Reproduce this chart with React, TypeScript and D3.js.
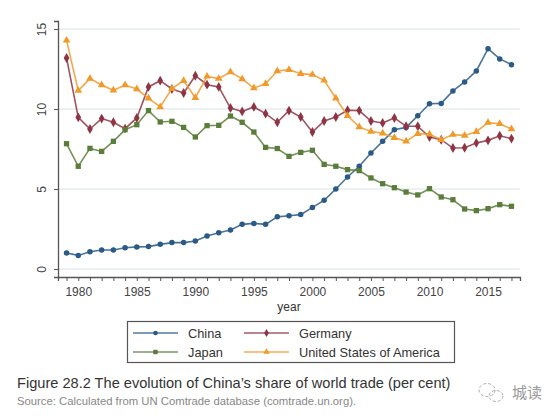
import React, { useEffect, useRef } from "react"
import * as d3 from "d3"

const years = [
  1979, 1980, 1981, 1982, 1983, 1984, 1985, 1986, 1987, 1988,
  1989, 1990, 1991, 1992, 1993, 1994, 1995, 1996, 1997, 1998,
  1999, 2000, 2001, 2002, 2003, 2004, 2005, 2006, 2007, 2008,
  2009, 2010, 2011, 2012, 2013, 2014, 2015, 2016, 2017,
]

const china = [
  1.0, 0.85, 1.08, 1.19, 1.19, 1.33, 1.38, 1.4, 1.54, 1.65,
  1.65, 1.75, 2.06, 2.27, 2.44, 2.79, 2.85, 2.79, 3.26, 3.33,
  3.4, 3.85, 4.29, 5.0, 5.75, 6.42, 7.25, 7.98, 8.71, 8.85,
  9.58, 10.33, 10.35, 11.13, 11.69, 12.38, 13.77, 13.13, 12.77,
]
const germany = [
  13.19, 9.48, 8.75, 9.4, 9.17, 8.77, 9.44, 11.38, 11.77, 11.25,
  11.0, 12.08, 11.52, 11.38, 10.06, 9.85, 10.13, 9.71, 9.17, 9.9,
  9.5, 8.56, 9.25, 9.5, 9.92, 9.9, 9.25, 9.13, 9.44, 8.92,
  8.92, 8.25, 8.08, 7.56, 7.58, 7.88, 8.04, 8.33, 8.15,
]
const japan = [
  7.83, 6.42, 7.54, 7.35, 7.98, 8.71, 9.02, 9.9, 9.19, 9.23,
  8.85, 8.25, 8.96, 8.98, 9.56, 9.17, 8.56, 7.6, 7.53, 7.04,
  7.29, 7.42, 6.54, 6.42, 6.21, 6.15, 5.69, 5.33, 5.08, 4.81,
  4.63, 5.02, 4.5, 4.33, 3.75, 3.65, 3.77, 4.02, 3.92,
]
const usa = [
  14.29, 11.15, 11.9, 11.5, 11.17, 11.5, 11.25, 10.67, 10.13, 11.27,
  11.77, 10.71, 12.04, 11.9, 12.31, 11.88, 11.31, 11.58, 12.37, 12.46,
  12.21, 12.15, 11.79, 10.67, 9.58, 8.88, 8.6, 8.48, 8.21, 7.98,
  8.46, 8.42, 8.08, 8.4, 8.35, 8.58, 9.15, 9.08, 8.75,
]

const yTicks = [0, 5, 10, 15]
const xTicks = [1980, 1985, 1990, 1995, 2000, 2005, 2010, 2015]

const seriesNames = ["China", "Germany", "Japan", "United States of America"]
const seriesValues = [china, germany, japan, usa]
const seriesColors = ["#2a5a86", "#8e3443", "#5a7d3a", "#f09a2c"]
const seriesSymbols = [d3.symbolCircle, d3.symbolDiamond, d3.symbolSquare, d3.symbolTriangle]
const symbolSizes = [24, 28, 28, 26]

const caption = "Figure 28.2 The evolution of China\u2019s share of world trade (per cent)"
const source = "Source: Calculated from UN Comtrade database (comtrade.un.org)."

const W = 554
const H = 418
const font = "'Liberation Sans', Arial, sans-serif"

export default function App() {
  const ref = useRef<SVGSVGElement>(null)

  useEffect(() => {
    const svg = d3.select(ref.current)
    svg.selectAll("*").remove()

    const left = 58, right = 520, top = 21, bottom = 277

    const x = d3.scaleLinear().domain([1978.27, 2017.73]).range([left, right])
    const y = d3.scaleLinear().domain([-0.5, 15.5]).range([bottom, top])

    // grid
    svg.append("g")
      .selectAll("line")
      .data(yTicks)
      .enter()
      .append("line")
      .attr("x1", left)
      .attr("x2", right)
      .attr("y1", d => y(d))
      .attr("y2", d => y(d))
      .attr("stroke", "#e6eeef")
      .attr("stroke-width", 1.3)

    // y axis
    const yAxis = svg.append("g")
      .attr("transform", `translate(${left},0)`)
      .call(d3.axisLeft(y).tickValues(yTicks).tickSize(4).tickPadding(6).tickFormat(d3.format("d")))
    yAxis.select(".domain").attr("stroke", "#555").attr("stroke-width", 1.3)
    yAxis.selectAll(".tick line").attr("stroke", "#555")
    yAxis.selectAll(".tick text")
      .attr("font-family", font)
      .attr("font-size", 12)
      .attr("fill", "#444")
      .attr("text-anchor", "middle")
      .attr("x", null)
      .attr("dy", null)
      .attr("transform", "translate(-12,0) rotate(-90)")

    // x axis, minor ticks every year
    const xAxis = svg.append("g")
      .attr("transform", `translate(0,${bottom})`)
      .call(d3.axisBottom(x).tickValues(years).tickSize(4).tickPadding(6)
        .tickFormat(d => (xTicks.includes(+d) ? String(d) : "")))
    xAxis.select(".domain").attr("stroke", "#555").attr("stroke-width", 1.3)
    xAxis.selectAll(".tick line").attr("stroke", "#555")
    xAxis.selectAll(".tick text")
      .attr("font-family", font)
      .attr("font-size", 12)
      .attr("fill", "#444")

    svg.append("text")
      .attr("x", (left + right) / 2)
      .attr("y", 311)
      .attr("text-anchor", "middle")
      .attr("font-family", font)
      .attr("font-size", 12)
      .attr("fill", "#333")
      .text("year")

    const line = d3.line<number>()
      .x((d, i) => x(years[i]))
      .y(d => y(d))

    seriesValues.forEach((vals, k) => {
      const g = svg.append("g")
      g.append("path")
        .datum(vals)
        .attr("d", line)
        .attr("fill", "none")
        .attr("stroke", seriesColors[k])
        .attr("stroke-width", 1.6)
        .attr("opacity", 0.85)
      g.selectAll("path.mark")
        .data(vals)
        .enter()
        .append("path")
        .attr("class", "mark")
        .attr("d", d3.symbol().type(seriesSymbols[k]).size(symbolSizes[k]))
        .attr("transform", (d, i) => `translate(${x(years[i])},${y(d)})`)
        .attr("fill", seriesColors[k])
    })

    // legend
    const legend = svg.append("g")
    legend.append("rect")
      .attr("x", 127.5)
      .attr("y", 321.5)
      .attr("width", 327)
      .attr("height", 41)
      .attr("fill", "white")
      .attr("stroke", "#555")
      .attr("stroke-width", 1.2)

    const legendOrder = [0, 1, 2, 3]
    legendOrder.forEach(k => {
      const col = k % 2
      const row = Math.floor(k / 2)
      const lx = col === 0 ? 133 : 244
      const ly = 333 + row * 19
      legend.append("line")
        .attr("x1", lx)
        .attr("x2", lx + 45)
        .attr("y1", ly)
        .attr("y2", ly)
        .attr("stroke", seriesColors[k])
        .attr("stroke-width", 1.4)
        .attr("opacity", 0.8)
      legend.append("path")
        .attr("d", d3.symbol().type(seriesSymbols[k]).size(symbolSizes[k] * 0.7))
        .attr("transform", `translate(${lx + 22.5},${ly})`)
        .attr("fill", seriesColors[k])
      legend.append("text")
        .attr("x", lx + 55)
        .attr("y", ly + 4.5)
        .attr("font-family", font)
        .attr("font-size", 12.8)
        .attr("fill", "#333")
        .text(seriesNames[k])
    })

    svg.append("text")
      .attr("x", 17)
      .attr("y", 388)
      .attr("font-family", font)
      .attr("font-size", 14.6)
      .attr("fill", "#333")
      .text(caption)

    svg.append("text")
      .attr("x", 17)
      .attr("y", 405)
      .attr("font-family", font)
      .attr("font-size", 11.3)
      .attr("fill", "#888")
      .text(source)

    // small chat-bubble mark and label at bottom right
    const wm = svg.append("g").attr("fill", "none").attr("stroke", "#aaa").attr("stroke-width", 1)
    wm.append("ellipse").attr("cx", 487).attr("cy", 390).attr("rx", 8).attr("ry", 6.5)
      .attr("stroke-dasharray", "3 2")
    wm.append("ellipse").attr("cx", 496).attr("cy", 396).attr("rx", 7).attr("ry", 5.5)
      .attr("stroke-dasharray", "3 2")
    svg.append("text")
      .attr("x", 512)
      .attr("y", 398)
      .attr("font-family", "'Noto Sans CJK SC', sans-serif")
      .attr("font-size", 15)
      .attr("fill", "#999")
      .text("城读")
  }, [])

  return (
    <div style={{ position: "absolute", left: 0, top: 0, width: W, height: H, background: "white" }}>
      <svg ref={ref} width={W} height={H} />
    </div>
  )
}
